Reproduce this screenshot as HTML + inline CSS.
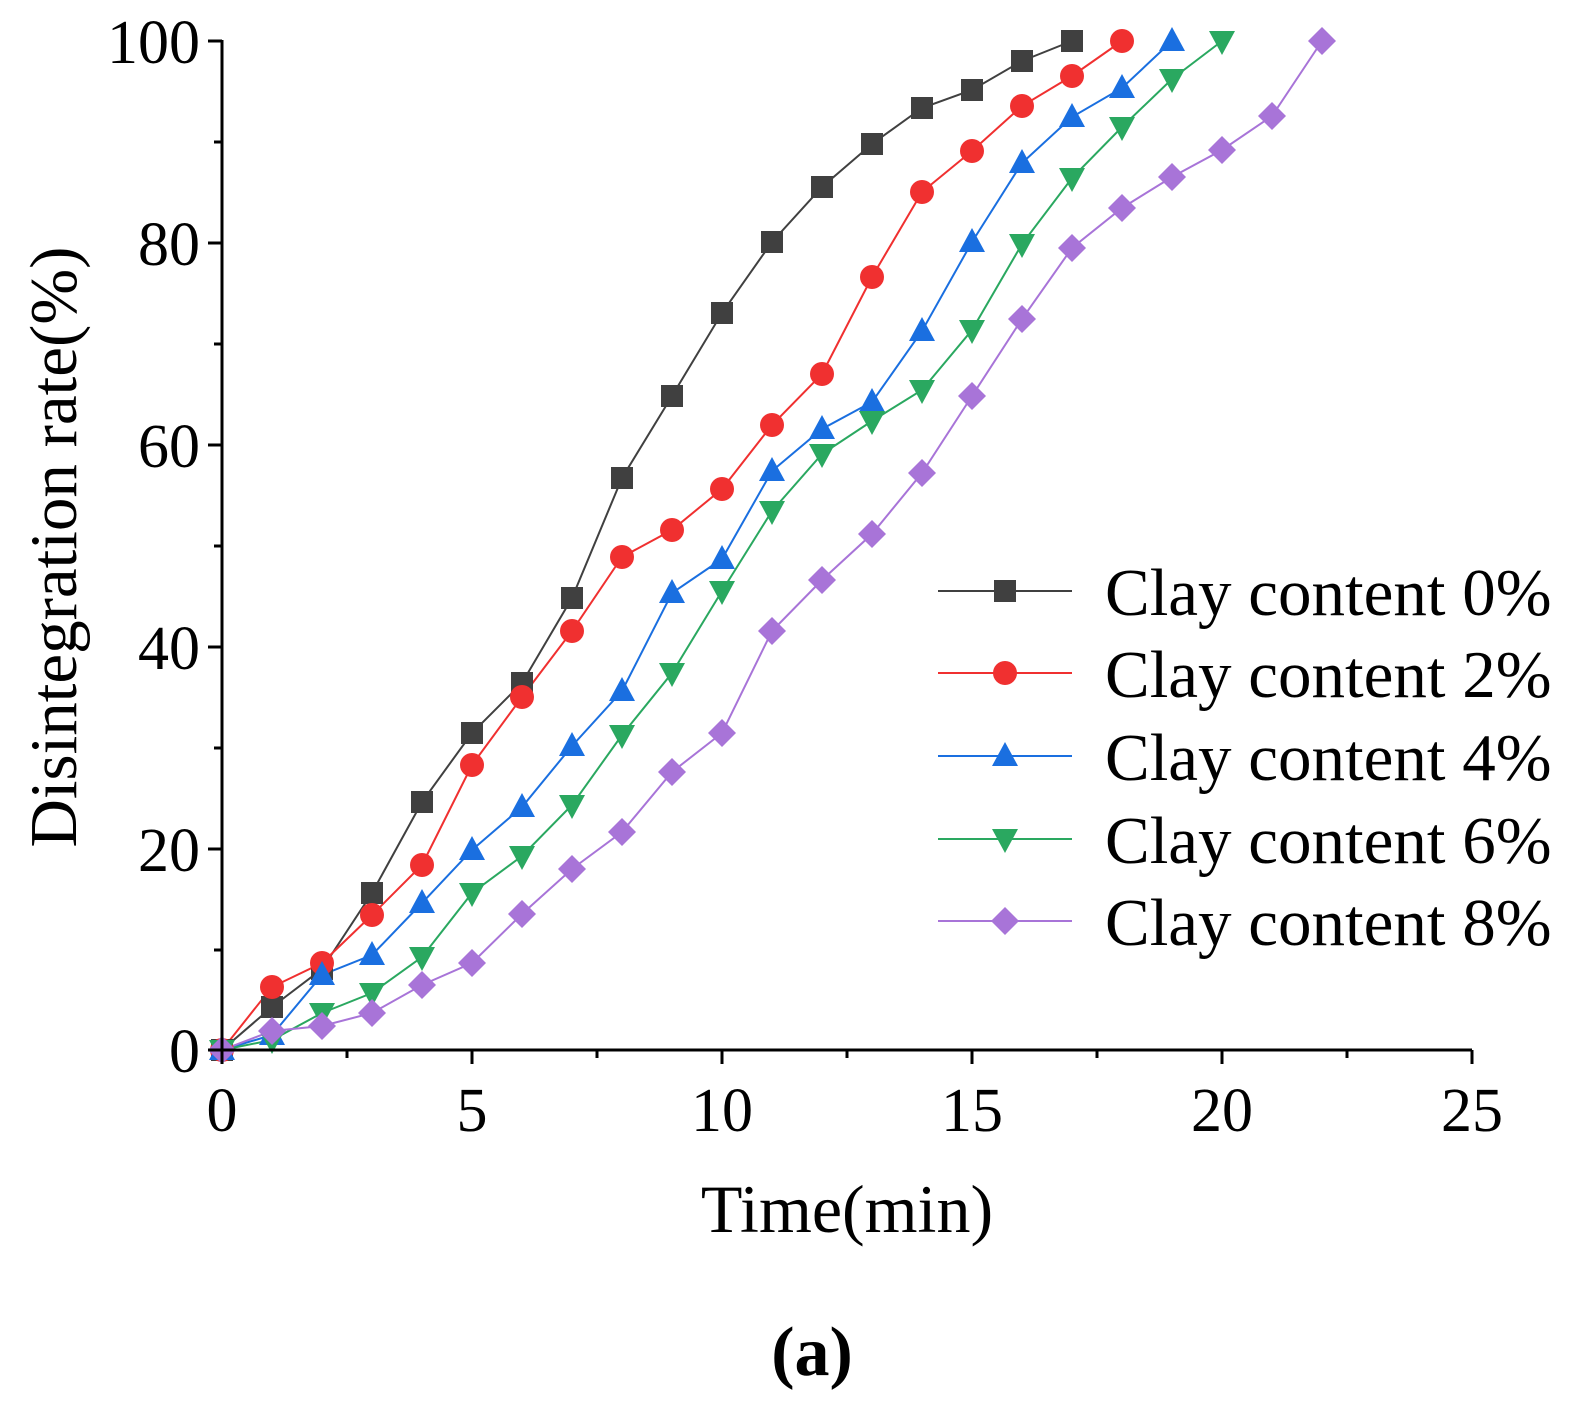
<!DOCTYPE html>
<html><head><meta charset="utf-8"><style>html,body{margin:0;padding:0;overflow:hidden;background:#fff}svg{display:block}</style></head>
<body>
<svg width="1577" height="1427" viewBox="0 0 1577 1427" xmlns="http://www.w3.org/2000/svg" font-family="Liberation Serif, serif">
<defs>
<rect id="sq" x="-11" y="-11" width="22" height="22" fill="#404040"/>
<circle id="ci" r="12" fill="#f03030"/>
<path id="tu" d="M0,-14 L13,10 L-13,10Z" fill="#1a6fe0"/>
<path id="td" d="M0,14 L13,-10 L-13,-10Z" fill="#2aa860"/>
<path id="di" d="M0,-14 L14,0 L0,14 L-14,0Z" fill="#a874d8"/>
</defs>
<g fill="none" stroke-width="2">
<polyline stroke="#404040" points="222,1050 272,1007 322,969 372,893 422,802 472,733 522,683 572,598 622,478 672,396 722,313 772,242 822,187 872,144 922,108 972,90 1022,61 1072,41"/>
<polyline stroke="#f03030" points="222,1050 272,987 322,963 372,915 422,865 472,765 522,697 572,631 622,557 672,530 722,489 772,425 822,374 872,277 922,192 972,151 1022,106 1072,76 1122,41"/>
<polyline stroke="#1a6fe0" points="222,1050 272,1035 322,975 372,955 422,903 472,850 522,807 572,746 622,691 672,593 722,559 772,471 822,429 872,402 922,331 972,242 1022,163 1072,117 1122,88 1172,41"/>
<polyline stroke="#2aa860" points="222,1050 272,1040 322,1013 372,993 422,957 472,893 522,856 572,805 622,735 672,673 722,591 772,511 822,454 872,421 922,390 972,330 1022,244 1072,178 1122,127 1172,79 1222,41"/>
<polyline stroke="#a874d8" points="222,1050 272,1031 322,1026 372,1013 422,985 472,963 522,914 572,869 622,832 672,772 722,733 772,631 822,580 872,534 922,473 972,396 1022,319 1072,248 1122,208 1172,177 1222,150 1272,116 1322,41"/>
</g>
<g>
<use href="#sq" x="222" y="1050"/><use href="#sq" x="272" y="1007"/><use href="#sq" x="322" y="969"/><use href="#sq" x="372" y="893"/><use href="#sq" x="422" y="802"/><use href="#sq" x="472" y="733"/><use href="#sq" x="522" y="683"/><use href="#sq" x="572" y="598"/><use href="#sq" x="622" y="478"/><use href="#sq" x="672" y="396"/><use href="#sq" x="722" y="313"/><use href="#sq" x="772" y="242"/><use href="#sq" x="822" y="187"/><use href="#sq" x="872" y="144"/><use href="#sq" x="922" y="108"/><use href="#sq" x="972" y="90"/><use href="#sq" x="1022" y="61"/><use href="#sq" x="1072" y="41"/>
<use href="#ci" x="222" y="1050"/><use href="#ci" x="272" y="987"/><use href="#ci" x="322" y="963"/><use href="#ci" x="372" y="915"/><use href="#ci" x="422" y="865"/><use href="#ci" x="472" y="765"/><use href="#ci" x="522" y="697"/><use href="#ci" x="572" y="631"/><use href="#ci" x="622" y="557"/><use href="#ci" x="672" y="530"/><use href="#ci" x="722" y="489"/><use href="#ci" x="772" y="425"/><use href="#ci" x="822" y="374"/><use href="#ci" x="872" y="277"/><use href="#ci" x="922" y="192"/><use href="#ci" x="972" y="151"/><use href="#ci" x="1022" y="106"/><use href="#ci" x="1072" y="76"/><use href="#ci" x="1122" y="41"/>
<use href="#tu" x="222" y="1050"/><use href="#tu" x="272" y="1035"/><use href="#tu" x="322" y="975"/><use href="#tu" x="372" y="955"/><use href="#tu" x="422" y="903"/><use href="#tu" x="472" y="850"/><use href="#tu" x="522" y="807"/><use href="#tu" x="572" y="746"/><use href="#tu" x="622" y="691"/><use href="#tu" x="672" y="593"/><use href="#tu" x="722" y="559"/><use href="#tu" x="772" y="471"/><use href="#tu" x="822" y="429"/><use href="#tu" x="872" y="402"/><use href="#tu" x="922" y="331"/><use href="#tu" x="972" y="242"/><use href="#tu" x="1022" y="163"/><use href="#tu" x="1072" y="117"/><use href="#tu" x="1122" y="88"/><use href="#tu" x="1172" y="41"/>
<use href="#td" x="222" y="1050"/><use href="#td" x="272" y="1040"/><use href="#td" x="322" y="1013"/><use href="#td" x="372" y="993"/><use href="#td" x="422" y="957"/><use href="#td" x="472" y="893"/><use href="#td" x="522" y="856"/><use href="#td" x="572" y="805"/><use href="#td" x="622" y="735"/><use href="#td" x="672" y="673"/><use href="#td" x="722" y="591"/><use href="#td" x="772" y="511"/><use href="#td" x="822" y="454"/><use href="#td" x="872" y="421"/><use href="#td" x="922" y="390"/><use href="#td" x="972" y="330"/><use href="#td" x="1022" y="244"/><use href="#td" x="1072" y="178"/><use href="#td" x="1122" y="127"/><use href="#td" x="1172" y="79"/><use href="#td" x="1222" y="41"/>
<use href="#di" x="222" y="1050"/><use href="#di" x="272" y="1031"/><use href="#di" x="322" y="1026"/><use href="#di" x="372" y="1013"/><use href="#di" x="422" y="985"/><use href="#di" x="472" y="963"/><use href="#di" x="522" y="914"/><use href="#di" x="572" y="869"/><use href="#di" x="622" y="832"/><use href="#di" x="672" y="772"/><use href="#di" x="722" y="733"/><use href="#di" x="772" y="631"/><use href="#di" x="822" y="580"/><use href="#di" x="872" y="534"/><use href="#di" x="922" y="473"/><use href="#di" x="972" y="396"/><use href="#di" x="1022" y="319"/><use href="#di" x="1072" y="248"/><use href="#di" x="1122" y="208"/><use href="#di" x="1172" y="177"/><use href="#di" x="1222" y="150"/><use href="#di" x="1272" y="116"/><use href="#di" x="1322" y="41"/>
</g>
<g stroke="#000" stroke-width="3" fill="none">
<path d="M222,40 V1050 H1472"/>
<path d="M222,41 h-14 M222,142 h-8 M222,243 h-14 M222,344 h-8 M222,445 h-14 M222,546 h-8 M222,647 h-14 M222,748 h-8 M222,849 h-14 M222,950 h-8 M222,1050 h-14"/>
<path d="M222,1050 v14 M347,1050 v8 M472,1050 v14 M597,1050 v8 M722,1050 v14 M847,1050 v8 M972,1050 v14 M1097,1050 v8 M1222,1050 v14 M1347,1050 v8 M1472,1050 v14"/>
</g>
<g font-size="62" text-anchor="end">
<text x="200" y="63">100</text><text x="200" y="265">80</text><text x="200" y="467">60</text><text x="200" y="669">40</text><text x="200" y="871">20</text><text x="200" y="1072">0</text>
</g>
<g font-size="62" text-anchor="middle">
<text x="222" y="1131">0</text><text x="472" y="1131">5</text><text x="722" y="1131">10</text><text x="972" y="1131">15</text><text x="1222" y="1131">20</text><text x="1472" y="1131">25</text>
</g>
<text x="847" y="1232" font-size="68" text-anchor="middle">Time(min)</text>
<text transform="translate(76,547) rotate(-90)" font-size="67" text-anchor="middle">Disintegration rate(%)</text>
<text x="812" y="1375" font-size="70" font-weight="bold" text-anchor="middle">(a)</text>
<g font-size="67">
<line x1="938" y1="591" x2="1072" y2="591" stroke="#404040" stroke-width="2"/><use href="#sq" x="1005" y="591"/><text x="1105" y="615">Clay content 0%</text>
<line x1="938" y1="673" x2="1072" y2="673" stroke="#f03030" stroke-width="2"/><use href="#ci" x="1005" y="673"/><text x="1105" y="697">Clay content 2%</text>
<line x1="938" y1="756" x2="1072" y2="756" stroke="#1a6fe0" stroke-width="2"/><use href="#tu" x="1005" y="756"/><text x="1105" y="780">Clay content 4%</text>
<line x1="938" y1="839" x2="1072" y2="839" stroke="#2aa860" stroke-width="2"/><use href="#td" x="1005" y="839"/><text x="1105" y="863">Clay content 6%</text>
<line x1="938" y1="921" x2="1072" y2="921" stroke="#a874d8" stroke-width="2"/><use href="#di" x="1005" y="921"/><text x="1105" y="945">Clay content 8%</text>
</g>
</svg>
</body></html>
